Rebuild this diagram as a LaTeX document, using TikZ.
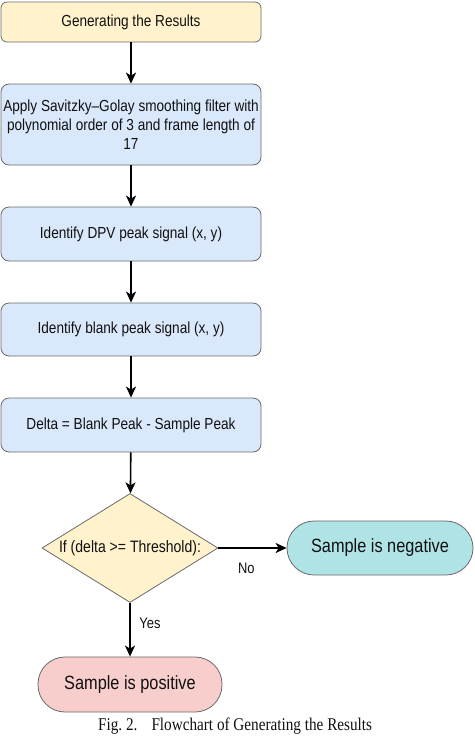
\documentclass[tikz,border=0pt]{standalone}
\usepackage{fontspec}
\setmainfont{Liberation Sans}[FakeStretch=0.85]
\newfontfamily\capfont{Liberation Serif}[FakeStretch=0.85]
\usetikzlibrary{shapes.geometric,arrows.meta}
\definecolor{yelfill}{HTML}{FFF2CC}
\definecolor{blufill}{HTML}{DAE8FC}
\definecolor{tealfill}{HTML}{B0E3E6}
\definecolor{pinkfill}{HTML}{F8CECC}
\definecolor{edgegray}{HTML}{6A6A6A}
\definecolor{txt}{HTML}{111111}
\tikzset{
  stepbox/.style={draw=edgegray, line width=0.8pt, fill=blufill, rounded corners=8pt,
    minimum width=260pt, align=center, inner sep=0pt, text=txt,
    font=\fontsize{16}{19}\selectfont},
  termbox/.style={draw=edgegray, line width=0.8pt, rounded corners=27pt,
    minimum height=54pt, inner sep=0pt, text=txt, font=\fontsize{19.2}{22}\selectfont},
  decbox/.style={draw=edgegray, line width=0.8pt, fill=yelfill, diamond, aspect=1,
    minimum width=176pt, minimum height=109pt, inner sep=0pt, text=txt,
    font=\fontsize{16.5}{19}\selectfont},
  arr/.style={line width=1.6pt, -{Stealth[length=11pt,width=10pt,inset=3pt]}},
  lbl/.style={text=txt, font=\fontsize{15.2}{18}\selectfont, inner sep=0pt}
}
\begin{document}
\begin{tikzpicture}[x=1pt,y=-1pt]
\useasboundingbox (0,0) rectangle (474,736);
\node[stepbox, fill=yelfill, rounded corners=6pt, minimum height=40pt] (gen) at (131,22) {Generating the Results};
\node[stepbox, minimum height=81pt] (sg) at (131,124.5) {Apply Savitzky–Golay smoothing filter with\\polynomial order of 3 and frame length of\\17};
\node[stepbox, minimum height=54pt] (dpv) at (131,234) {Identify DPV peak signal (x, y)};
\node[stepbox, minimum height=53pt] (blank) at (131,329.5) {Identify blank peak signal (x, y)};
\node[stepbox, minimum height=54pt] (delta) at (131,425) {Delta = Blank Peak - Sample Peak};
\node[decbox] (dec) at (130,548) {\makebox[0pt]{If (delta >= Threshold):}};
\node[termbox, fill=tealfill, minimum width=186pt] (neg) at (380,548) {Sample is negative};
\node[termbox, fill=pinkfill, minimum width=184pt, minimum height=55pt] (pos) at (130,684.5) {Sample is positive};
\draw[arr] (gen) -- (sg);
\draw[arr] (sg) -- (dpv);
\draw[arr] (dpv) -- (blank);
\draw[arr] (blank) -- (delta);
\draw[arr] (delta) -- (dec);
\draw[arr] (dec.east) -- node[lbl, pos=0.41, yshift=-20pt] (no) {No} (neg.west);
\draw[arr] (dec.south) -- node[lbl, pos=0.38, xshift=20pt] (yes) {Yes} (pos.north);
\node[anchor=base west, inner sep=0pt, text=txt, font=\capfont\fontsize{17.9}{20}\selectfont] (cap) at (98,730) {Fig.~2.\hspace{14pt}Flowchart of Generating the Results};
\end{tikzpicture}
\end{document}
